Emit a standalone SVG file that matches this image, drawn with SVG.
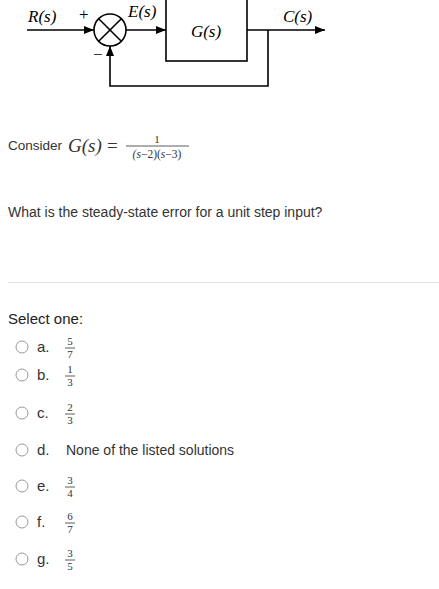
<svg xmlns="http://www.w3.org/2000/svg" width="439" height="589" viewBox="0 0 439 589">
<style>
.ln{stroke:#000;stroke-width:1.6;fill:none}
.lbl{font-family:"Liberation Serif",serif;font-style:italic;font-size:17px;fill:#000}
.up{font-family:"Liberation Serif",serif;font-size:17px;fill:#000}
.body{font-family:"Liberation Sans",Arial,sans-serif;font-size:14px;fill:#333}
.opt{font-family:"Liberation Sans",Arial,sans-serif;font-size:15px;fill:#333}
.fr{font-family:"Liberation Serif",serif;font-size:11px;fill:#333;text-anchor:middle}
.radio{fill:#fff;stroke:#999;stroke-width:1}
.frl{stroke:#333;stroke-width:0.8}
</style>
<defs>
<marker id="ah" markerWidth="10" markerHeight="8" refX="10" refY="4" orient="auto" markerUnits="userSpaceOnUse">
<path d="M0,0 L10,4 L0,8 Z" fill="#000"/>
</marker>
</defs>
<rect width="439" height="589" fill="#fff"/>
<g id="connectors">
<line class="ln" x1="27" y1="30" x2="94" y2="30" marker-end="url(#ah)"/>
<line class="ln" x1="126" y1="30" x2="166" y2="30" marker-end="url(#ah)"/>
<line class="ln" x1="247" y1="30" x2="325" y2="30" marker-end="url(#ah)"/>
<polyline class="ln" points="268,30 268,86 110,86 110,46" marker-end="url(#ah)"/>
</g>
<g id="sum">
<circle class="ln" cx="110" cy="30" r="16"/>
<line class="ln" x1="98.7" y1="18.7" x2="121.3" y2="41.3"/>
<line class="ln" x1="121.3" y1="18.7" x2="98.7" y2="41.3"/>
<text class="up" x="79" y="20">+</text>
<text class="up" x="93" y="60">−</text>
</g>
<g id="plant">
<rect class="ln" x="166" y="-5" width="81" height="66"/>
<text class="lbl" x="206" y="37" text-anchor="middle">G(s)</text>
</g>
<g id="labels">
<text class="lbl" x="28" y="22">R(s)</text>
<text class="lbl" x="128" y="17">E(s)</text>
<text class="lbl" x="283" y="22">C(s)</text>
</g>
<g id="consider">
<text x="8" y="150" style="font-family:'Liberation Sans',Arial,sans-serif;font-size:13.5px;fill:#333">Consider</text>
<text x="68" y="152" style="font-family:'Liberation Serif',serif;font-style:italic;font-size:19px;fill:#333">G(s)</text>
<text x="107" y="152" style="font-family:'Liberation Serif',serif;font-size:19px;fill:#333">=</text>
<text class="fr" x="157" y="143">1</text>
<line class="frl" x1="126" y1="146" x2="189" y2="146"/>
<text x="157" y="158" style="font-family:'Liberation Serif',serif;font-size:11.5px;fill:#333;text-anchor:middle"><tspan font-style="italic">(s</tspan>−2)(<tspan font-style="italic">s</tspan>−3)</text>
</g>
<text class="body" x="8" y="217">What is the steady-state error for a unit step input?</text>
<line x1="8" y1="282.5" x2="439" y2="282.5" stroke="#e3e3e3" stroke-width="1"/>
<text class="opt" x="8" y="324" style="fill:#222">Select one:</text>
<g id="opt-a"><circle class="radio" cx="22" cy="347" r="6"/><text class="opt" x="37" y="352">a.</text>
<text class="fr" x="70" y="345">5</text><line class="frl" x1="65" y1="348" x2="75" y2="348"/><text class="fr" x="70" y="358">7</text></g>
<g id="opt-b"><circle class="radio" cx="22" cy="375" r="6"/><text class="opt" x="37" y="380">b.</text>
<text class="fr" x="70" y="373">1</text><line class="frl" x1="65" y1="376" x2="75" y2="376"/><text class="fr" x="70" y="386">3</text></g>
<g id="opt-c"><circle class="radio" cx="22" cy="413" r="6"/><text class="opt" x="37" y="418">c.</text>
<text class="fr" x="70" y="411">2</text><line class="frl" x1="65" y1="414" x2="75" y2="414"/><text class="fr" x="70" y="424">3</text></g>
<g id="opt-d"><circle class="radio" cx="22" cy="450" r="6"/><text class="opt" x="37" y="455">d.</text>
<text class="body" x="66" y="455">None of the listed solutions</text></g>
<g id="opt-e"><circle class="radio" cx="22" cy="486" r="6"/><text class="opt" x="37" y="491">e.</text>
<text class="fr" x="70" y="484">3</text><line class="frl" x1="65" y1="487" x2="75" y2="487"/><text class="fr" x="70" y="497">4</text></g>
<g id="opt-f"><circle class="radio" cx="22" cy="522" r="6"/><text class="opt" x="37" y="527">f.</text>
<text class="fr" x="70" y="520">6</text><line class="frl" x1="65" y1="523" x2="75" y2="523"/><text class="fr" x="70" y="533">7</text></g>
<g id="opt-g"><circle class="radio" cx="22" cy="559" r="6"/><text class="opt" x="37" y="564">g.</text>
<text class="fr" x="70" y="557">3</text><line class="frl" x1="65" y1="560" x2="75" y2="560"/><text class="fr" x="70" y="570">5</text></g>
</svg>
